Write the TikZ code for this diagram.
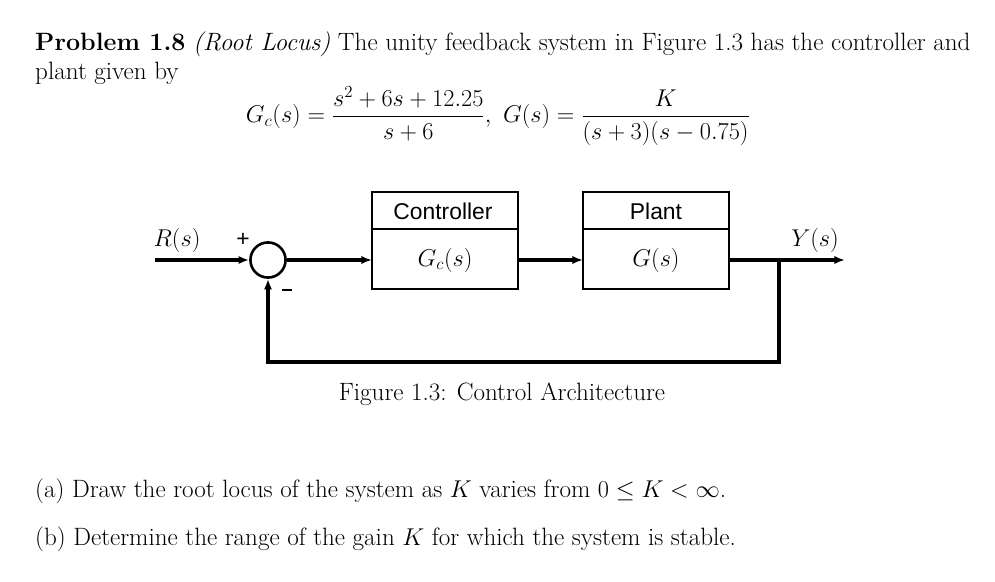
\documentclass[tikz,border=0pt]{standalone}
\usepackage{fontspec}
\usepackage{amsmath}
\newfontfamily\arial{Liberation Sans}
\usetikzlibrary{arrows.meta}
\begin{document}
\begin{tikzpicture}[x=0.03cm,y=-0.03cm,
  blk/.style={draw,line width=2.2pt},
  wire/.style={line width=2.6pt},
  arr/.style={wire,-{Latex[length=9pt,width=7pt]}},
  txt/.style={inner sep=0,font=\fontsize{21.4}{25}\selectfont},
  lbl/.style={inner sep=0,font=\fontsize{21}{24}\selectfont},
  sf/.style={inner sep=0,font=\arial\fontsize{19.5}{22}\selectfont}]
\useasboundingbox (0,0) rectangle (995,582);
\node[txt,anchor=base west] (l1) at (35,50) {\textbf{Problem 1.8} \textit{(Root Locus)} The unity feedback system in Figure 1.3 has the controller and};
\node[txt,anchor=base west] (l2) at (35,79) {plant given by};
\node[txt] (eq) at (498,116) {$\displaystyle G_c(s)=\frac{s^2+6s+12.25}{s+6},\ G(s)=\frac{K}{(s+3)(s-0.75)}$};
% blocks
\draw[blk] (372,192) rectangle (518,289);
\draw[blk] (372,229) -- (518,229);
\draw[blk] (583,192) rectangle (729,289);
\draw[blk] (583,229) -- (729,229);
\node[sf] (ch) at (443,211) {Controller};
\node[sf] (ph) at (656,211) {Plant};
\node[lbl] (gc) at (445,260) {$G_c(s)$};
\node[lbl] (gp) at (656,260) {$G(s)$};
\coordinate (cin) at (372,260); \coordinate (cout) at (518,260);
\coordinate (pin) at (583,260); \coordinate (pout) at (729,260);
\node[draw,circle,line width=2.2pt,minimum size=30pt,inner sep=0] (sum) at (268,260) {};
\coordinate (rin) at (155,260);
\coordinate (yout) at (845,260);
\coordinate (br) at (779,260);
\coordinate (c1) at (779,362);
\coordinate (c2) at (268,362);
\draw[arr] (rin) -- (sum.west);
\draw[arr] (sum.east) -- (cin);
\draw[arr] (cout) -- (pin);
\draw[arr] (pout) -- (yout);
\draw[arr] (br) -- (c1) -- (c2) -- (sum.south);
\node[lbl] (r) at (177,240) {$R(s)$};
\node[lbl] (y) at (815,240) {$Y(s)$};
\node[sf] (plus) at (243,240) {+};
\node[sf] (minus) at (287,292) {\rule[0.3ex]{8pt}{1.3pt}};
\node[txt] (cap) at (502,394) {Figure 1.3: Control Architecture};
\node[txt,anchor=base west] (a) at (35,497) {(a) Draw the root locus of the system as $K$ varies from $0\le K<\infty$.};
\node[txt,anchor=base west] (b) at (35,545) {(b) Determine the range of the gain $K$ for which the system is stable.};
\end{tikzpicture}
\end{document}
